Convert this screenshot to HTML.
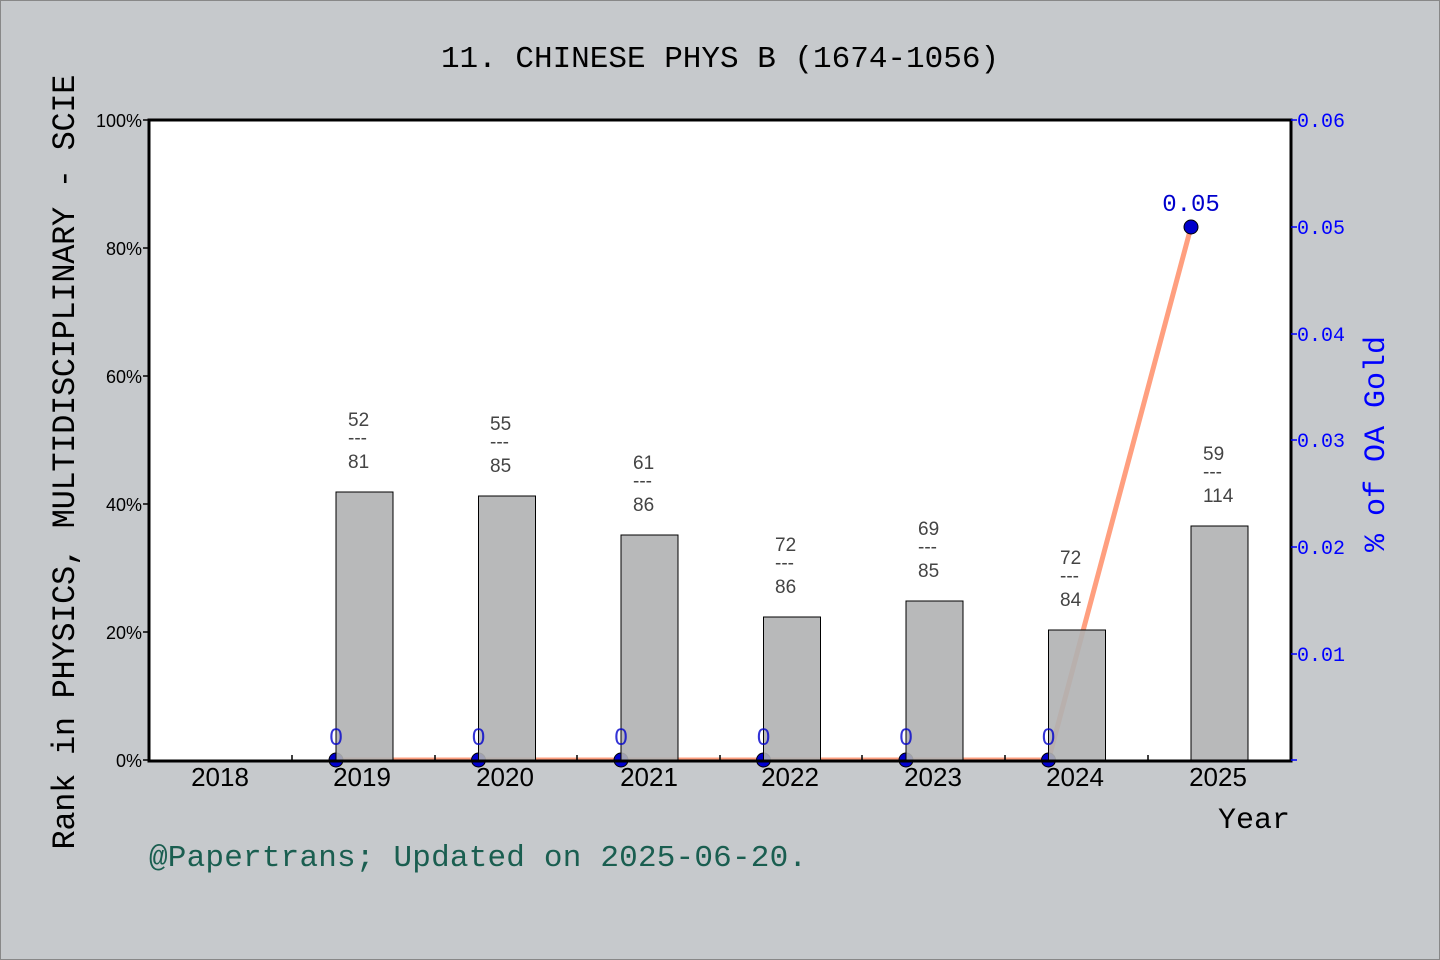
<!DOCTYPE html>
<html><head><meta charset="utf-8"><style>
html,body{margin:0;padding:0;background:#c6c9cc;}
svg{display:block}
text{font-family:"Liberation Mono","WenQuanYi Zen Hei",monospace;}
text.s{font-family:"Liberation Sans",sans-serif;}
</style></head><body>
<svg width="1440" height="960" viewBox="0 0 1440 960" xmlns="http://www.w3.org/2000/svg">
<rect x="0" y="0" width="1440" height="960" fill="#c6c9cc"/>
<rect x="0.5" y="0.5" width="1439" height="959" fill="none" stroke="#888" stroke-width="1"/>
<text x="720" y="67" text-anchor="middle" font-size="31" fill="#000">11. CHINESE PHYS B (1674-1056)</text>
<rect x="149" y="120" width="1142" height="641" fill="#fff"/>
<polyline points="336,760 478.5,760 621,760 763.5,760 906,760 1048.5,760 1191,227" fill="none" stroke="#ff9f7f" stroke-width="5"/>
<g fill="#0000cc" stroke="#000" stroke-width="1">
<circle cx="336" cy="760" r="7"/><circle cx="478.5" cy="760" r="7"/><circle cx="621" cy="760" r="7"/><circle cx="763.5" cy="760" r="7"/><circle cx="906" cy="760" r="7"/><circle cx="1048.5" cy="760" r="7"/><circle cx="1191" cy="227" r="7"/>
</g>
<g fill="#b0b1b2" fill-opacity="0.9" stroke="#000" stroke-width="1">
<rect x="336" y="492" width="57" height="269"/>
<rect x="478.5" y="496" width="57" height="265"/>
<rect x="621" y="535" width="57" height="226"/>
<rect x="763.5" y="617" width="57" height="144"/>
<rect x="906" y="601" width="57" height="160"/>
<rect x="1048.5" y="630" width="57" height="131"/>
<rect x="1191" y="526" width="57" height="235"/>
</g>
<g fill="#0000cc" font-size="24" text-anchor="middle" fill-opacity="0.8">
<text class="s" x="336" y="745">0</text><text class="s" x="478.5" y="745">0</text><text class="s" x="621" y="745">0</text><text class="s" x="763.5" y="745">0</text><text class="s" x="906" y="745">0</text><text class="s" x="1048.5" y="745">0</text>
</g>
<text x="1191" y="211" fill="#0000cc" font-size="24" text-anchor="middle">0.05</text>
<g fill="#444" font-size="19">
<text class="s" x="348" y="426">52</text><text class="s" x="348" y="444">---</text><text class="s" x="348" y="468">81</text>
<text class="s" x="490" y="430">55</text><text class="s" x="490" y="448">---</text><text class="s" x="490" y="472">85</text>
<text class="s" x="633" y="469">61</text><text class="s" x="633" y="487">---</text><text class="s" x="633" y="511">86</text>
<text class="s" x="775" y="551">72</text><text class="s" x="775" y="569">---</text><text class="s" x="775" y="593">86</text>
<text class="s" x="918" y="535">69</text><text class="s" x="918" y="553">---</text><text class="s" x="918" y="577">85</text>
<text class="s" x="1060" y="564">72</text><text class="s" x="1060" y="582">---</text><text class="s" x="1060" y="606">84</text>
<text class="s" x="1203" y="460">59</text><text class="s" x="1203" y="478">---</text><text class="s" x="1203" y="502">114</text>
</g>
<rect x="149" y="120" width="1142" height="641" fill="none" stroke="#000" stroke-width="3"/>
<g stroke="#000" stroke-width="1.5">
<line x1="143" y1="120" x2="149" y2="120"/><line x1="143" y1="248" x2="149" y2="248"/><line x1="143" y1="376" x2="149" y2="376"/><line x1="143" y1="504" x2="149" y2="504"/><line x1="143" y1="632" x2="149" y2="632"/><line x1="143" y1="760" x2="149" y2="760"/>
<line x1="292" y1="755" x2="292" y2="761"/><line x1="435" y1="755" x2="435" y2="761"/><line x1="577" y1="755" x2="577" y2="761"/><line x1="720" y1="755" x2="720" y2="761"/><line x1="862" y1="755" x2="862" y2="761"/><line x1="1005" y1="755" x2="1005" y2="761"/><line x1="1148" y1="755" x2="1148" y2="761"/>
</g>
<g stroke="#0000ff" stroke-width="1.5">
<line x1="1291" y1="120" x2="1297" y2="120"/><line x1="1291" y1="227" x2="1297" y2="227"/><line x1="1291" y1="334" x2="1297" y2="334"/><line x1="1291" y1="440" x2="1297" y2="440"/><line x1="1291" y1="547" x2="1297" y2="547"/><line x1="1291" y1="654" x2="1297" y2="654"/><line x1="1291" y1="760" x2="1297" y2="760"/>
</g>
<g font-size="18" text-anchor="end" fill="#000">
<text class="s" x="142" y="127">100%</text><text class="s" x="142" y="255">80%</text><text class="s" x="142" y="383">60%</text><text class="s" x="142" y="511">40%</text><text class="s" x="142" y="639">20%</text><text class="s" x="142" y="767">0%</text>
</g>
<g font-size="20" fill="#0000ff">
<text x="1297" y="127">0.06</text><text x="1297" y="234">0.05</text><text x="1297" y="341">0.04</text><text x="1297" y="447">0.03</text><text x="1297" y="554">0.02</text><text x="1297" y="661">0.01</text>
</g>
<g font-size="26" text-anchor="middle" fill="#000">
<text class="s" x="220" y="786">2018</text><text class="s" x="362" y="786">2019</text><text class="s" x="505" y="786">2020</text><text class="s" x="649" y="786">2021</text><text class="s" x="790" y="786">2022</text><text class="s" x="933" y="786">2023</text><text class="s" x="1075" y="786">2024</text><text class="s" x="1218" y="786">2025</text>
</g>
<text x="1290" y="828" text-anchor="end" font-size="30" fill="#000">Year</text>
<text transform="translate(74,462) rotate(-90)" text-anchor="middle" font-size="32" textLength="775" lengthAdjust="spacing" fill="#000">Rank in PHYSICS, MULTIDISCIPLINARY - SCIE</text>
<text transform="translate(1384,444) rotate(-90)" text-anchor="middle" font-size="30" fill="#0000ff">% of OA Gold</text>
<text x="149" y="866" font-size="31" textLength="658" lengthAdjust="spacing" fill="#1a5e50">@Papertrans; Updated on 2025-06-20.</text>
</svg>
</body></html>
